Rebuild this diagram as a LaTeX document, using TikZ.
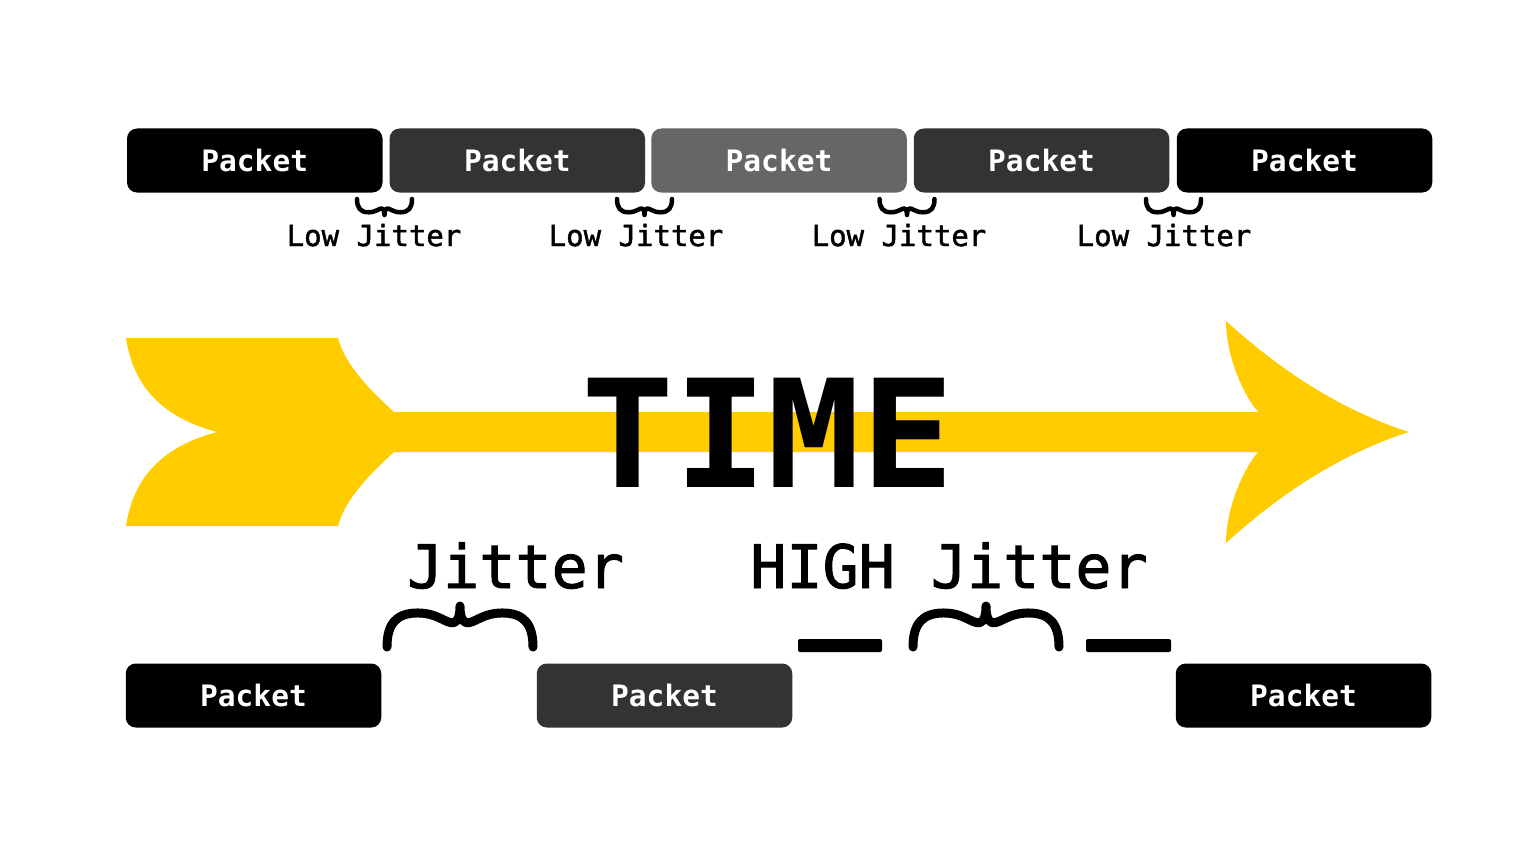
\documentclass[tikz,border=0pt]{standalone}
\usepackage{fontspec}
\newfontfamily\jmono{DejaVu Sans Mono}
\newfontfamily\jmonoheavy[FakeBold=1.6]{DejaVu Sans Mono}
\definecolor{arrowyellow}{HTML}{FFCC00}
\definecolor{pkdark}{HTML}{333333}
\definecolor{pkmid}{HTML}{666666}
\tikzset{
  pkt/.style={rounded corners=10pt, minimum width=255.5pt, minimum height=64pt, inner sep=0pt, text=white,
    font=\jmono\bfseries\fontsize{29.5}{30}\selectfont},
  lowj/.style={anchor=base, inner sep=0pt, font=\jmonoheavy\fontsize{29}{30}\selectfont},
  bigj/.style={anchor=base, inner sep=0pt, font=\jmonoheavy\fontsize{60}{62}\selectfont},
  dashbar/.style={fill=black, rounded corners=2pt},
  curlyb/.pic={
    \draw[line cap=round, line join=round]
      (-1,1) .. controls (-1,0.447) and (-0.878,0.17) .. (-0.581,0.17)
      .. controls (-0.297,0.17) and (-0.189,0.447) .. (-0.081,0.404)
      .. controls (-0.0135,0.362) and (0,0.19) .. (0,0)
      .. controls (0,0.19) and (0.0135,0.362) .. (0.081,0.404)
      .. controls (0.189,0.447) and (0.297,0.17) .. (0.581,0.17)
      .. controls (0.878,0.17) and (1,0.447) .. (1,1);
  }
}
\begin{document}
\begin{tikzpicture}[x=1pt,y=-1pt]
\path[fill=white] (0,0) rectangle (1536,864);
\useasboundingbox (0,0) rectangle (1536,864);

% top row of packets
\node[pkt, fill=black]  (t1) at (254.75,160.5) {Packet};
\node[pkt, fill=pkdark] (t2) at (517.3,160.5) {Packet};
\node[pkt, fill=pkmid]  (t3) at (779,160.5) {Packet};
\node[pkt, fill=pkdark] (t4) at (1041.5,160.5) {Packet};
\node[pkt, fill=black]  (t5) at (1304.5,160.5) {Packet};

% small braces
\pic[line width=4.5pt, xscale=27.5, yscale=-16] at (384.5,215) {curlyb};
\pic[line width=4.5pt, xscale=27.5, yscale=-16] at (644.5,215) {curlyb};
\pic[line width=4.5pt, xscale=27.5, yscale=-16] at (907,215) {curlyb};
\pic[line width=4.5pt, xscale=27.5, yscale=-16] at (1173.5,215) {curlyb};

\node[lowj] (l1) at (374,246) {Low Jitter};
\node[lowj] (l2) at (636,246) {Low Jitter};
\node[lowj] (l3) at (899,246) {Low Jitter};
\node[lowj] (l4) at (1164,246) {Low Jitter};

% time arrow
\fill[arrowyellow] (126,338) -- (338,338)
  .. controls (345,365) and (370,390) .. (394,412) -- (1258,412)
  .. controls (1240,390) and (1226,352) .. (1226,321)
  .. controls (1280,370) and (1340,410) .. (1409,432)
  .. controls (1340,454) and (1280,494) .. (1226,543)
  .. controls (1226,512) and (1240,474) .. (1258,452) -- (394,452)
  .. controls (370,474) and (345,499) .. (338,526) -- (126,526)
  .. controls (135,464) and (180,442) .. (217,432)
  .. controls (180,422) and (135,400) .. (126,338) -- cycle;
\node[anchor=base, inner sep=0pt, font=\jmono\bfseries\fontsize{150}{150}\selectfont, xscale=1.03] (time) at (768,487) {TIME};

% lower labels
\node[bigj] (j1) at (515.5,588) {Jitter};
\node[bigj] (j2) at (949,588) {HIGH Jitter};

% big braces and bars
\pic[line width=9pt, xscale=73, yscale=41] at (460,606) {curlyb};
\pic[line width=9pt, xscale=73, yscale=41] at (986,606) {curlyb};
\path[dashbar] (798,639) rectangle (882,652);
\path[dashbar] (1086,639) rectangle (1171,652);

% bottom row of packets
\node[pkt, fill=black]  (b1) at (253.5,695.5) {Packet};
\node[pkt, fill=pkdark] (b2) at (664.5,695.5) {Packet};
\node[pkt, fill=black]  (b3) at (1303.5,695.5) {Packet};
\end{tikzpicture}
\end{document}
